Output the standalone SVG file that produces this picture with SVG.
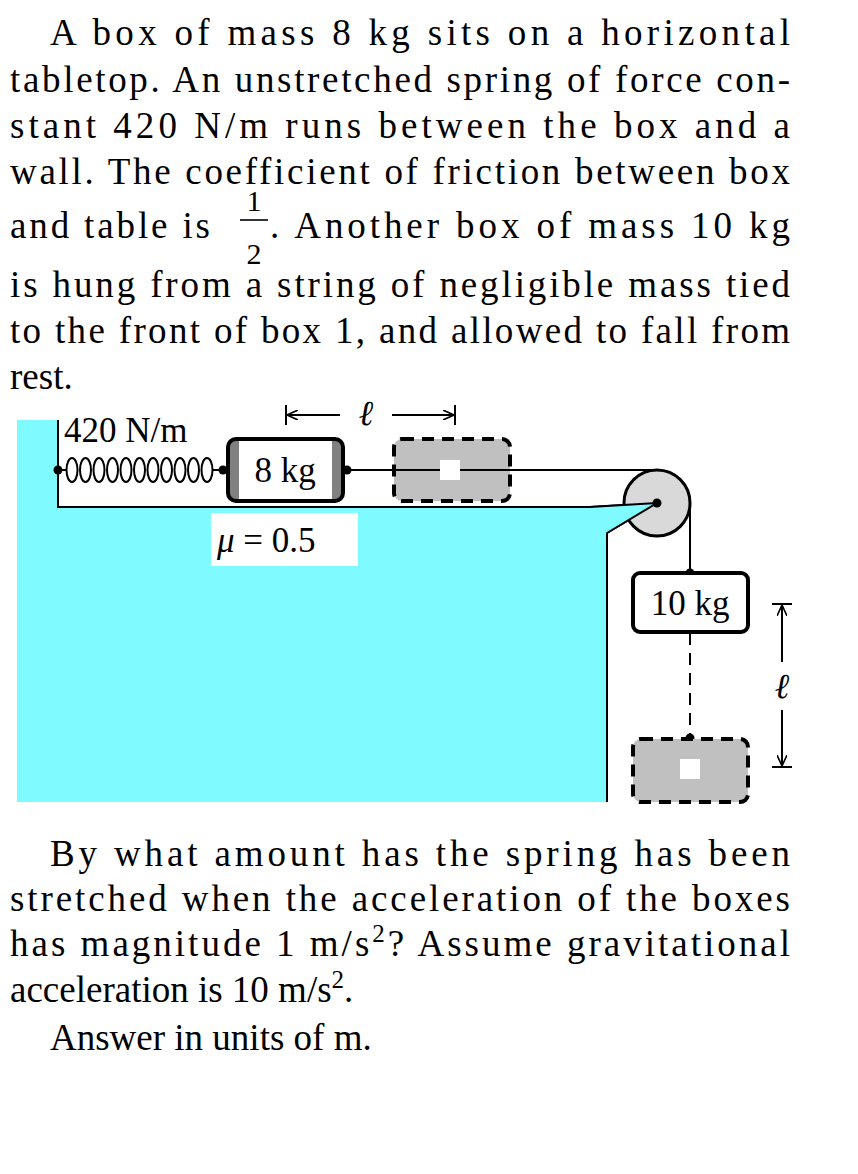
<svg xmlns="http://www.w3.org/2000/svg" width="858" height="1174" viewBox="0 0 858 1174">
<style>
text{font-family:"Liberation Serif","DejaVu Serif",serif;fill:#000}
.p{font-size:37px}
.l{font-size:35px}
.ln{stroke:#000;stroke-width:2;fill:none}
.ghost{fill:#c0c0c0;stroke:#000;stroke-width:4;stroke-dasharray:12,8}
</style>
<defs>
<marker id="ah" viewBox="0 0 12 10" refX="11" refY="5" markerWidth="12" markerHeight="10" markerUnits="userSpaceOnUse" orient="auto"><path d="M0,0 L11,5 L0,10" fill="none" stroke="#000" stroke-width="1.6"/></marker>
</defs>
<rect width="858" height="1174" fill="#fff"/>
<g id="text-top" class="p">
<text x="50" y="45" textLength="740" lengthAdjust="spacing">A box of mass 8 kg sits on a horizontal</text>
<text x="10" y="92" textLength="780" lengthAdjust="spacing">tabletop. An unstretched spring of force con-</text>
<text x="10" y="138" textLength="780" lengthAdjust="spacing">stant 420 N/m runs between the box and a</text>
<text x="10" y="184" textLength="780" lengthAdjust="spacing">wall. The coefficient of friction between box</text>
<text x="10" y="238" textLength="200" lengthAdjust="spacing">and table is</text>
<text x="254" y="211" text-anchor="middle" font-size="30">1</text>
<line x1="240" y1="220" x2="268" y2="220" stroke="#000" stroke-width="1.6"/>
<text x="254" y="264" text-anchor="middle" font-size="30">2</text>
<text x="270" y="238" textLength="520" lengthAdjust="spacing">. Another box of mass 10 kg</text>
<text x="10" y="297" textLength="780" lengthAdjust="spacing">is hung from a string of negligible mass tied</text>
<text x="10" y="343" textLength="780" lengthAdjust="spacing">to the front of box 1, and allowed to fall from</text>
<text x="10" y="389">rest.</text>
</g>
<g id="table">
<path d="M17,420 L58,420 L58,507 L590,507 L657,503 L607,533 L607,802 L17,802 Z" fill="#7ffbff"/>
<path class="ln" d="M58,420 L58,507 L590,507 L657,503 L607,533 L607,802"/>
</g>
<g id="mu-label">
<rect x="211" y="513" width="147" height="53" fill="#fff"/>
<text class="l" x="217" y="552"><tspan font-style="italic">μ</tspan> = 0.5</text>
</g>
<g id="connectors">
<line class="ln" x1="347" y1="470" x2="657" y2="470"/>
<line class="ln" x1="690" y1="503" x2="690" y2="573"/>
<line class="ln" x1="690" y1="633" x2="690" y2="738" stroke-dasharray="12,8"/>
<g id="spring" fill="none" stroke="#000" stroke-width="2">
<line x1="58" y1="470" x2="66" y2="470"/>
<ellipse cx="72" cy="470" rx="5.5" ry="12"/><ellipse cx="85.5" cy="470" rx="5.5" ry="12"/><ellipse cx="99" cy="470" rx="5.5" ry="12"/><ellipse cx="112.5" cy="470" rx="5.5" ry="12"/><ellipse cx="126" cy="470" rx="5.5" ry="12"/><ellipse cx="139.5" cy="470" rx="5.5" ry="12"/><ellipse cx="153" cy="470" rx="5.5" ry="12"/><ellipse cx="166.5" cy="470" rx="5.5" ry="12"/><ellipse cx="180" cy="470" rx="5.5" ry="12"/><ellipse cx="193.5" cy="470" rx="5.5" ry="12"/><ellipse cx="207" cy="470" rx="5.5" ry="12"/>
<line x1="212" y1="470" x2="223" y2="470"/>
</g>
<circle cx="58" cy="470" r="4.5"/>
<circle cx="223" cy="470" r="4.5"/>
<circle cx="347" cy="470" r="4.5"/>
<circle cx="690" cy="573" r="4.5"/>
<circle cx="690" cy="738" r="4.5"/>
</g>
<g id="pulley">
<circle cx="657" cy="503" r="33" fill="#d9d9d9" stroke="#000" stroke-width="3"/>
<path d="M590,507 L657,503 L607,533 Z" fill="#7ffbff"/>
<path class="ln" d="M590,507 L657,503 L607,533"/>
<circle cx="657" cy="503" r="4.5"/>
</g>
<g id="spring-label"><text class="l" x="64" y="442">420 N/m</text></g>
<g id="box8">
<rect x="228" y="439" width="115" height="62" rx="8" fill="#808080" stroke="#000" stroke-width="4"/>
<rect x="239" y="441" width="93" height="58" fill="#fff"/>
<text class="l" x="285" y="482" text-anchor="middle">8 kg</text>
</g>
<g id="ghost-top">
<rect class="ghost" x="394" y="439" width="116" height="62" rx="8"/>
<line class="ln" x1="394" y1="470" x2="510" y2="470"/>
<rect x="440" y="460" width="20" height="20" fill="#fff"/>
</g>
<g id="box10">
<rect x="633" y="573" width="115" height="59" rx="7" fill="#fff" stroke="#000" stroke-width="4"/>
<text class="l" x="690" y="615" text-anchor="middle">10 kg</text>
</g>
<g id="ghost-bottom">
<rect class="ghost" x="633" y="739" width="115" height="63" rx="8"/>
<rect x="680" y="759" width="20" height="20" fill="#fff"/>
</g>
<g id="dim-top">
<line class="ln" x1="286" y1="405" x2="286" y2="425"/>
<line class="ln" x1="455" y1="405" x2="455" y2="425"/>
<line class="ln" x1="340" y1="415" x2="287" y2="415" marker-end="url(#ah)"/>
<line class="ln" x1="392" y1="415" x2="454" y2="415" marker-end="url(#ah)"/>
<text class="l" x="366" y="425" text-anchor="middle" font-style="italic">ℓ</text>
</g>
<g id="dim-right">
<line class="ln" x1="772" y1="604" x2="792" y2="604"/>
<line class="ln" x1="772" y1="767" x2="792" y2="767"/>
<line class="ln" x1="782" y1="662" x2="782" y2="605" marker-end="url(#ah)"/>
<line class="ln" x1="782" y1="710" x2="782" y2="766" marker-end="url(#ah)"/>
<text class="l" x="782" y="698" text-anchor="middle" font-style="italic">ℓ</text>
</g>
<g id="text-bottom" class="p">
<text x="50" y="866" textLength="740" lengthAdjust="spacing">By what amount has the spring has been</text>
<text x="10" y="911" textLength="780" lengthAdjust="spacing">stretched when the acceleration of the boxes</text>
<text x="10" y="956" textLength="780" lengthAdjust="spacing">has magnitude 1 m/s<tspan font-size="25" dy="-14">2</tspan><tspan dy="14">? Assume gravitational</tspan></text>
<text x="10" y="1002">acceleration is 10 m/s<tspan font-size="25" dy="-14">2</tspan><tspan dy="14">.</tspan></text>
<text x="50" y="1050">Answer in units of  m.</text>
</g>
</svg>
